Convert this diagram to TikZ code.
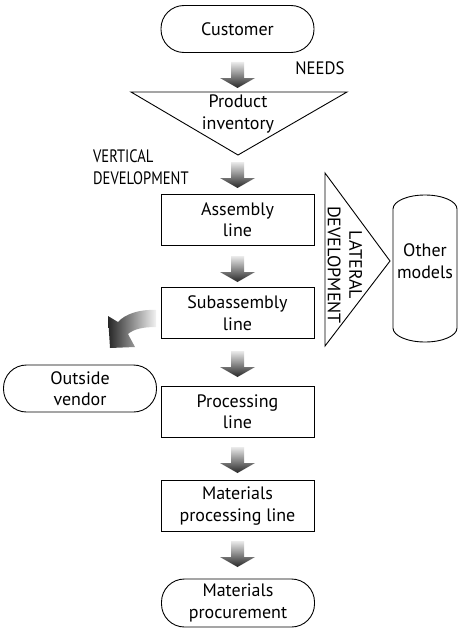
\documentclass[tikz,border=0pt]{standalone}
\usepackage{graphicx}
\usepackage{fontspec}
\setmainfont{PT Sans}
\usetikzlibrary{calc}
\tikzset{
  lbl/.style={font=\fontsize{18}{21.5}\selectfont, align=center, inner sep=0pt},
  boxnode/.style={lbl, draw, line width=0.9pt, minimum width=153pt, minimum height=51pt},
  stadium/.style={lbl, draw, line width=0.9pt, rounded corners=23pt, minimum width=153pt, minimum height=47pt},
  outline/.style={draw, line width=0.9pt},
  arrowshade/.style={top color=black!8, bottom color=black!85, draw=none},
  curveshade/.style={left color=black!85, right color=black!5, draw=none}
}
\newcommand{\garrow}[2]{%
  \path[arrowshade] let \p1=(#1), \p2=(#2) in
    (\x1-6.5pt,\y1) -- (\x1+6.5pt,\y1) -- (\x1+6.5pt,\y2+10pt) -- (\x1+17.5pt,\y2+10pt)
    -- (\x1,\y2) -- (\x1-17.5pt,\y2+10pt) -- (\x1-6.5pt,\y2+10pt) -- cycle;}
\newcommand{\narrow}[2]{\scalebox{#1}[1]{#2}}
\begin{document}
\begin{tikzpicture}[x=1pt,y=-1pt]
\useasboundingbox (0,0) rectangle (462,634);
% nodes
\node[stadium] (customer) at (237.5,29) {Customer};
\node[lbl] (needs) at (320,68) {\narrow{0.93}{NEEDS}};
\coordinate (triA) at (131,92);
\coordinate (triB) at (347,92);
\coordinate (triC) at (238,155);
\draw[outline, line join=miter] (triA) -- (triB) -- (triC) -- cycle;
\node[lbl] (inventory) at (238,114) {Product\\inventory};
\node[lbl, anchor=west, align=left] (vertical) at (93,167) {\narrow{0.81}{VERTICAL}\\\narrow{0.81}{DEVELOPMENT}};
\node[boxnode] (assembly) at (237.5,219.5) {Assembly\\line};
\node[boxnode] (subassembly) at (237.5,313) {Subassembly\\line};
\node[boxnode] (processing) at (237.5,411.5) {Processing\\line};
\node[boxnode] (matproc) at (237.5,506) {Materials\\processing line};
\node[stadium, minimum height=48pt] (procurement) at (238,603) {Materials\\procurement};
\node[stadium] (vendor) at (80,388.5) {Outside\\vendor};
% lateral triangle
\coordinate (latA) at (325,173);
\coordinate (latB) at (325,346);
\coordinate (latC) at (390,261);
\draw[outline, line join=miter] (latA) -- (latC) -- (latB) -- cycle;
\node[lbl, rotate=-90] (lateral) at (345,265) {LATERAL\\DEVELOPMENT};
% cylinder
\draw[outline] (393,209) arc[start angle=180, end angle=0, x radius=32pt, y radius=14pt]
  -- (457,328) arc[start angle=0, end angle=-180, x radius=32pt, y radius=14pt] -- cycle;
\node[lbl] (other) at (425,261) {Other\\models};
% block arrows
\coordinate (a1s) at (237.5,62); \coordinate (a1e) at (237.5,88);
\coordinate (a2s) at (237.5,162); \coordinate (a2e) at (237.5,188);
\coordinate (a3s) at (237.5,256); \coordinate (a3e) at (237.5,282);
\coordinate (a4s) at (237.5,351); \coordinate (a4e) at (237.5,377);
\coordinate (a5s) at (237.5,447); \coordinate (a5e) at (237.5,473);
\coordinate (a6s) at (237.5,541); \coordinate (a6e) at (237.5,567);
\garrow{a1s}{a1e}
\garrow{a2s}{a2e}
\garrow{a3s}{a3e}
\garrow{a4s}{a4e}
\garrow{a5s}{a5e}
\garrow{a6s}{a6e}
% curved arrow toward outside vendor
\path[curveshade] (156,310) .. controls (140,309) and (125,314) .. (118,322)
  -- (108,316) -- (110,348) -- (135,347) -- (128,334)
  .. controls (134,329) and (143,327) .. (156,327) -- cycle;
\end{tikzpicture}
\end{document}
